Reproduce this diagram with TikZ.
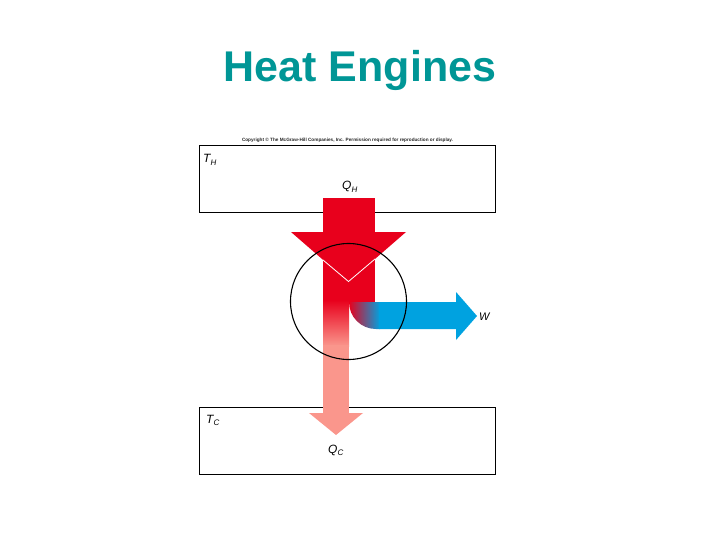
\documentclass[tikz,border=0pt]{standalone}
\usepackage{fontspec}
\setmainfont{Liberation Sans}
\definecolor{titleteal}{RGB}{0,150,150}
\definecolor{hotred}{RGB}{232,0,28}
\definecolor{coldpink}{RGB}{250,150,140}
\definecolor{workblue}{RGB}{0,162,224}
\begin{document}
\begin{tikzpicture}[x=1pt,y=-1pt,
  reservoir/.style={draw=black, line width=1.2pt, minimum width=296pt, minimum height=67pt, anchor=north west, inner sep=0pt},
  lbl/.style={font=\fontsize{12}{14}\selectfont\itshape, anchor=base west, inner sep=0pt}]
\useasboundingbox (0,0) rectangle (720,540);
% title
\node[font=\fontsize{43}{50}\selectfont\bfseries, text=titleteal, anchor=base, inner sep=0pt] (title) at (360,81.5) {Heat Engines};
\node[inner sep=0pt, text=black!85] (copy) at (347.5,140) {\resizebox{211pt}{!}{\bfseries Copyright © The McGraw-Hill Companies, Inc. Permission required for reproduction or display.}};
% reservoirs
\node[reservoir] (hot) at (199,145) {};
\node[reservoir] (cold) at (199,407) {};
% heat in (red)
\fill[hotred] (323,198) rectangle (375,303);
\fill[hotred] (291,232) -- (406,232) -- (348.5,282) -- cycle;
% heat out (fading to pink)
\shade[top color=hotred, bottom color=coldpink] (323,300) rectangle (349,346);
\fill[coldpink] (323,345) rectangle (349,414);
\fill[coldpink] (309,413) -- (363,413) -- (336,435) -- cycle;
% elbow to work
\shade[left color=hotred, right color=workblue] (349,302) -- (380,302) -- (380,329) -- (376,329) .. controls (361,329) and (349,317) .. (349,302) -- cycle;
\fill[workblue] (379,302) -- (456,302) -- (456,292) -- (477,316) -- (456,340) -- (456,329) -- (379,329) -- cycle;
% arrowhead outline
\draw[white, line width=0.8pt] (323,260) -- (348.5,281.5) -- (375,259);
% engine
\node[draw=black, circle, line width=1.1pt, minimum size=116pt, inner sep=0pt] (engine) at (348.5,301.5) {};
% labels
\node[lbl] (th) at (203,163) {T\raisebox{-2.5pt}{\fontsize{8}{9}\selectfont H}};
\node[lbl] (qh) at (342,190) {Q\raisebox{-2.5pt}{\fontsize{8}{9}\selectfont H}};
\node[lbl] (tc) at (206,423) {T\raisebox{-2.5pt}{\fontsize{8}{9}\selectfont C}};
\node[lbl] (qc) at (328,453) {Q\raisebox{-2.5pt}{\fontsize{8}{9}\selectfont C}};
\node[lbl, font=\fontsize{11}{13}\selectfont\itshape] (w) at (479,320) {W};
\end{tikzpicture}
\end{document}
